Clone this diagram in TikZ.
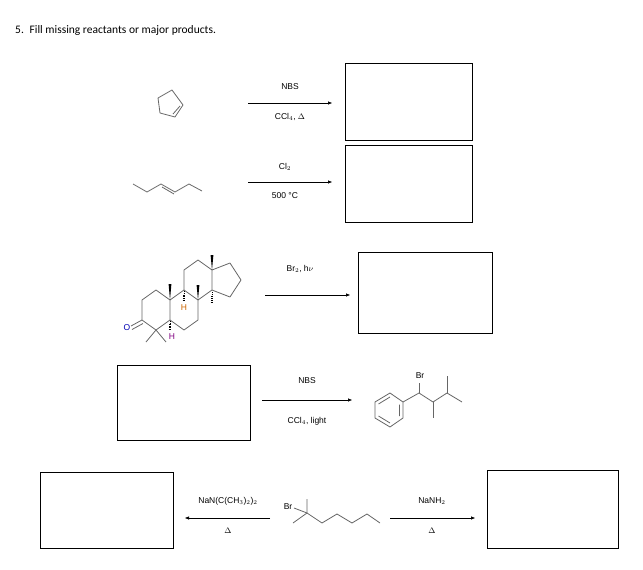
\documentclass[tikz,border=0pt]{standalone}
\usepackage{fontspec}
\setmainfont{Liberation Sans}
\newfontfamily\titlefnt{Carlito}
\usetikzlibrary{arrows.meta}
\begin{document}
\begin{tikzpicture}[x=1pt,y=-1pt,
  bond/.style={line width=0.8pt,gray!80!black,line join=round},
  rxn/.style={line width=0.7pt,-{Triangle[length=4pt,width=3pt]}},
  abox/.style={draw,line width=0.7pt},
  lab/.style={font=\fontsize{8.5}{9}\selectfont,inner sep=0pt},
  wedge/.style={fill=black,draw=none}]
\useasboundingbox (0,0) rectangle (643,570);
\node[anchor=west,font=\titlefnt\fontsize{11.5}{13}\selectfont,inner sep=0pt] (title) at (15,30) {5.\enspace Fill missing reactants or major products.};
% row 1
\draw[bond] (172,90)--(183,105)--(175,117)--(160,113)--(158,98)--cycle;
\draw[bond] (180,106)--(173,114);
\coordinate (a1s) at (248,103); \coordinate (a1e) at (332,103);
\draw[rxn] (a1s)--(a1e);
\node[lab] (l1a) at (290,87) {NBS};
\node[lab] (l1b) at (290,117) {CCl$_4$, $\Delta$};
\draw[abox] (345,63) rectangle (472,140);
% row 2
\draw[bond] (133,184)--(147,192)--(161,184)--(175,192)--(189,184)--(202,191);
\draw[bond] (162,187)--(174,194);
\coordinate (a2s) at (248,182); \coordinate (a2e) at (332,182);
\draw[rxn] (a2s)--(a2e);
\node[lab] (l2a) at (285,167) {Cl$_2$};
\node[lab] (l2b) at (285,196) {500 °C};
\draw[abox] (345,145) rectangle (472,222);
% row 3 steroid
\draw[bond] (142,300)--(156,290)--(170,300)--(170,320)--(156,330)--(142,320)--cycle;
\draw[bond] (170,300)--(184,290)--(198,300)--(198,320)--(184,330)--(170,320);
\draw[bond] (184,290)--(184,270)--(198,260)--(212,270)--(212,290)--(198,300);
\draw[bond] (212,270)--(230,263)--(241,280)--(230,297)--(212,290);
\draw[bond] (142,320)--(131,326); \draw[bond] (143,323.5)--(132,329.5);
\node[lab,text=blue!70!black] (O) at (127,328) {O};
\draw[bond] (156,330)--(146,342); \draw[bond] (156,330)--(166,342);
\fill[wedge] (170,300)--(168.6,284)--(171.4,284)--cycle;
\fill[wedge] (198,300)--(196.6,285)--(199.4,285)--cycle;
\fill[wedge] (212,270)--(210.6,255)--(213.4,255)--cycle;
\foreach \t in {0.15,0.3,...,1.0} {
  \draw[line width=0.5pt] (184-1.6*\t,290+11*\t)--(184+1.6*\t,290+11*\t);
  \draw[line width=0.5pt] (170-1.6*\t,320+10*\t)--(170+1.6*\t,320+10*\t);
  \draw[line width=0.5pt] (212-1.6*\t,290+14*\t)--(212+1.6*\t,290+14*\t);}
\node[lab,text=orange!80!black] (H1) at (184,308) {H};
\node[lab,text=violet] (H2) at (172,337) {H};
\coordinate (a3s) at (265,295); \coordinate (a3e) at (350,295);
\draw[rxn] (a3s)--(a3e);
\node[lab] (l3a) at (300,269) {Br$_2$, h$\nu$};
\draw[abox] (358,252) rectangle (492,333);
% row 4
\draw[abox] (117,365) rectangle (250,440);
\coordinate (a4s) at (262,400); \coordinate (a4e) at (352,400);
\draw[rxn] (a4s)--(a4e);
\node[lab] (l4a) at (307,381) {NBS};
\node[lab] (l4b) at (307,421) {CCl$_4$, light};
\draw[bond] (375,402)--(390,393)--(403,402)--(403,418)--(390,427)--(375,418)--cycle;
\draw[bond] (378.5,404)--(390,397) (399.5,404.5)--(399.5,416) (378.5,416)--(390,423);
\draw[bond] (403,402)--(419,393)--(433,402)--(447,393)--(462,402);
\draw[bond] (419,393)--(419,383); \draw[bond] (433,402)--(433,418); \draw[bond] (447,393)--(447,376);
\node[lab] (Br1) at (420,376) {Br};
% row 5
\draw[abox] (40,472) rectangle (173,548);
\coordinate (a5s) at (270,518); \coordinate (a5e) at (185,518);
\draw[rxn] (a5s)--(a5e);
\node[lab] (l5a) at (228,501) {NaN(C(CH$_3$)$_2$)$_2$};
\node[lab] (l5b) at (228,531) {$\Delta$};
\node[lab] (Br2) at (288,507) {Br};
\draw[bond] (294,508)--(307,513);
\draw[bond] (307,499)--(307,513)--(293,523);
\draw[bond] (307,513)--(322,523)--(337,514)--(352,523)--(367,514)--(380,523);
\coordinate (a6s) at (390,518); \coordinate (a6e) at (475,518);
\draw[rxn] (a6s)--(a6e);
\node[lab] (l6a) at (432,501) {NaNH$_2$};
\node[lab] (l6b) at (432,531) {$\Delta$};
\draw[abox] (487,470) rectangle (618,548);
\end{tikzpicture}
\end{document}
